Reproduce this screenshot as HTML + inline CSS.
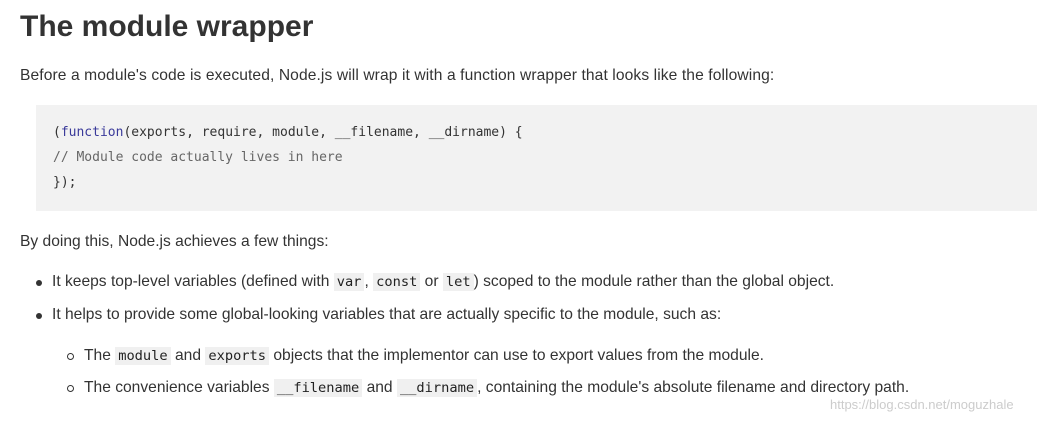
<!DOCTYPE html>
<html><head><style>
body{margin:0;width:1037px;height:423px;background:#fff;position:relative;overflow:hidden;font-family:"Liberation Sans",sans-serif;color:#333;}
.a{position:absolute;white-space:nowrap;}
p.a{margin:0;font-size:15.6px;line-height:20px;}
code{font-family:"DejaVu Sans Mono","Liberation Mono",monospace;font-size:13.7px;background:#f0f0f0;padding:1px 3px;color:#222;}
.pre{position:absolute;left:36px;top:105px;width:1001px;height:106px;background:#f2f2f2;}
.pre div{position:absolute;left:17px;font-family:"DejaVu Sans Mono","Liberation Mono",monospace;font-size:13px;color:#333;white-space:nowrap;}
.dot{position:absolute;width:6px;height:6px;border-radius:50%;background:#333;}
.ring{position:absolute;width:5px;height:5px;border-radius:50%;border:1px solid #333;}
</style></head><body>
<div class="a" style="left:20px;top:10px;font-size:30px;font-weight:bold;color:#333;">The module wrapper</div>
<p class="a" style="left:20px;top:66px;letter-spacing:0.1px;">Before a module's code is executed, Node.js will wrap it with a function wrapper that looks like the following:</p>
<div class="pre">
<div style="top:20px;">(<span style="color:#3a3a9a">function</span>(exports, require, module, __filename, __dirname) {</div>
<div style="top:45px;color:#666;">// Module code actually lives in here</div>
<div style="top:70px;">});</div>
</div>
<p class="a" style="left:20px;top:232px;">By doing this, Node.js achieves a few things:</p>
<div class="dot" style="left:36px;top:280px"></div>
<p class="a" style="left:52px;top:272px;">It keeps top-level variables (defined with <code>var</code>, <code>const</code> or <code>let</code>) scoped to the module rather than the global object.</p>
<div class="dot" style="left:36px;top:313px"></div>
<p class="a" style="left:52px;top:305px;">It helps to provide some global-looking variables that are actually specific to the module, such as:</p>
<div class="ring" style="left:67px;top:353px"></div>
<p class="a" style="left:84px;top:346px;">The <code>module</code> and <code>exports</code> objects that the implementor can use to export values from the module.</p>
<div class="ring" style="left:67px;top:385px"></div>
<p class="a" style="left:84px;top:378px;">The convenience variables <code>__filename</code> and <code>__dirname</code>, containing the module's absolute filename and directory path.</p>
<div class="a" style="left:830px;top:397px;font-size:13px;color:#ccc;">https://blog.csdn.net/moguzhale</div>
</body></html>
